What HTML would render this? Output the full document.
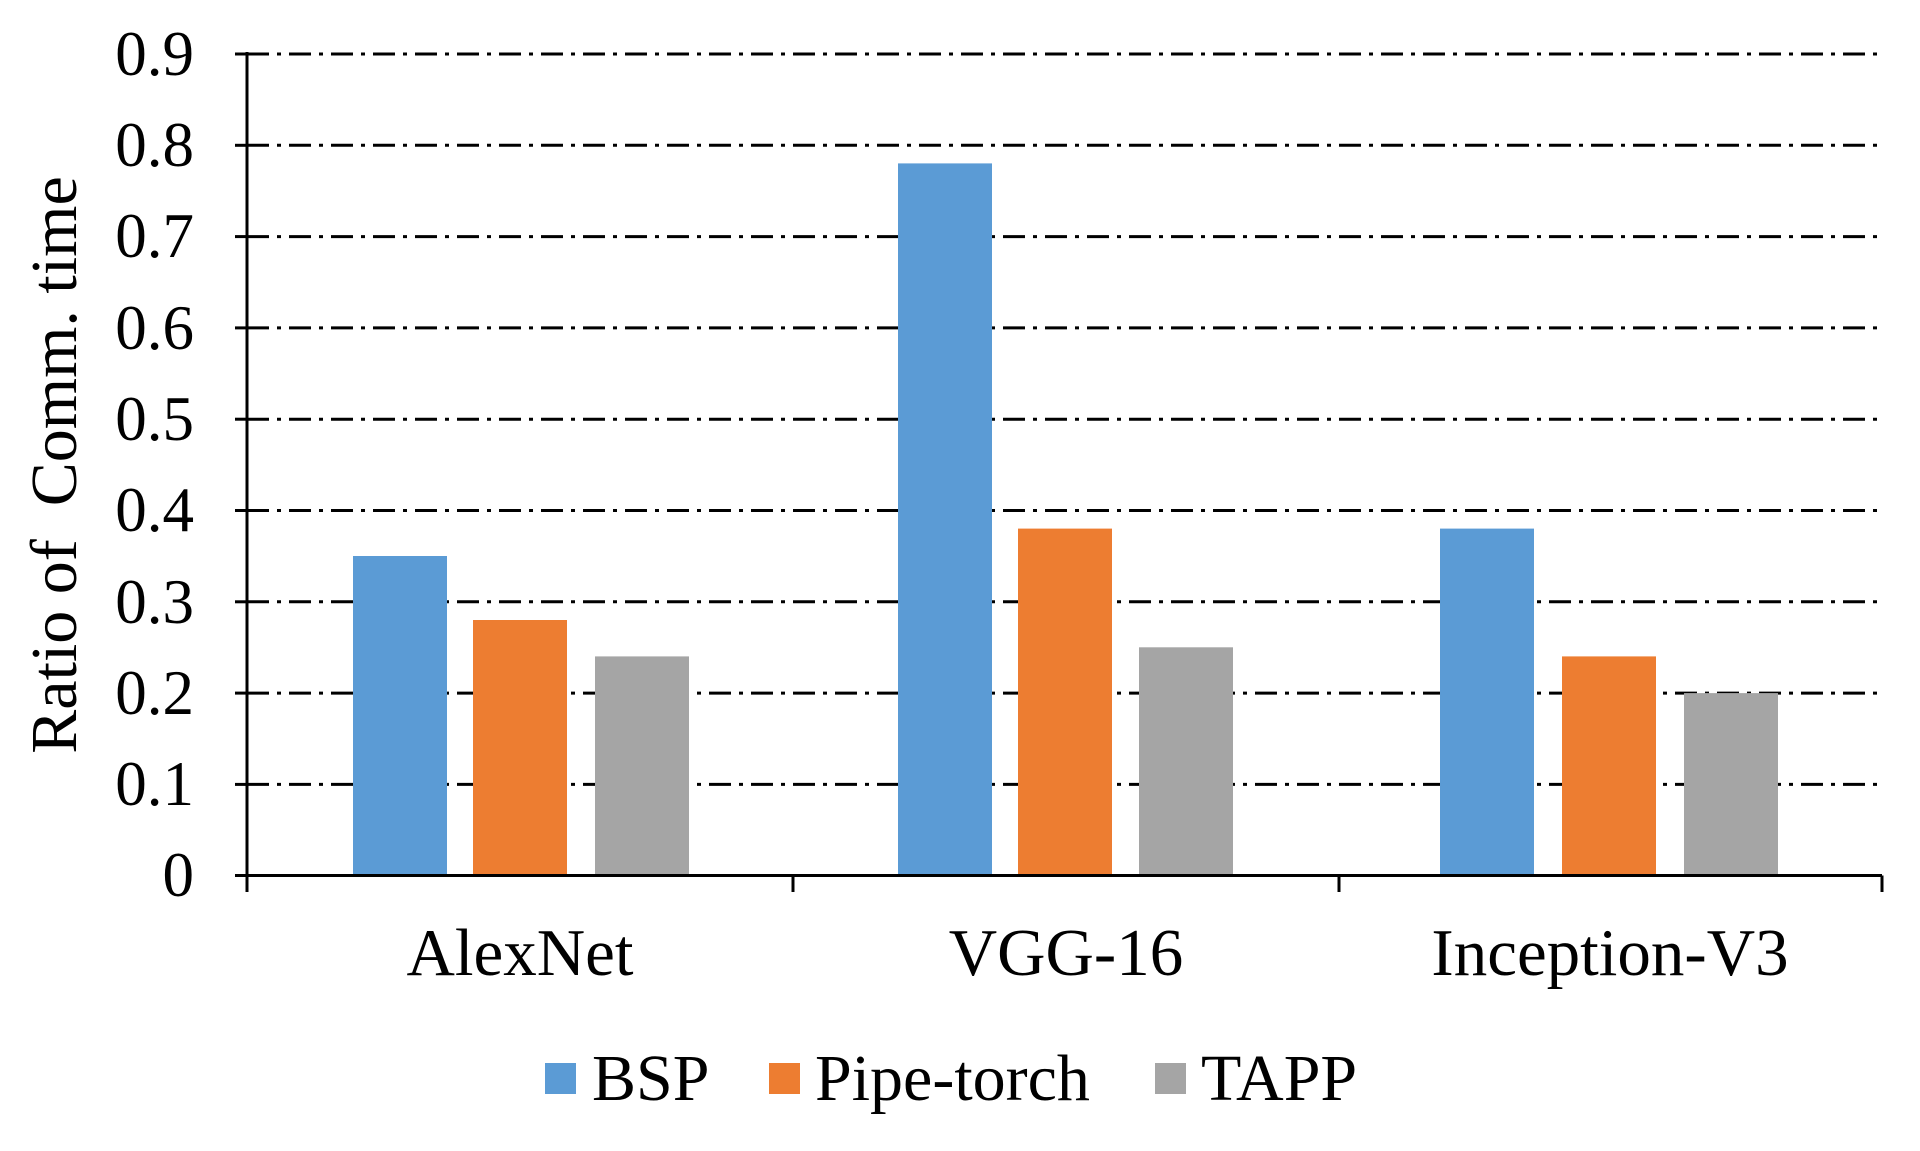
<!DOCTYPE html>
<html><head><meta charset="utf-8"><style>html,body{margin:0;padding:0;background:#fff}</style></head>
<body>
<svg width="1920" height="1146" viewBox="0 0 1920 1146" xmlns="http://www.w3.org/2000/svg" font-family="Liberation Serif, serif">
<rect width="1920" height="1146" fill="#fff"/>
<g stroke="#000" stroke-width="3" stroke-dasharray="22,8,4,8">
<line x1="247" y1="54" x2="1882" y2="54"/>
<line x1="247" y1="145.3" x2="1882" y2="145.3"/>
<line x1="247" y1="236.6" x2="1882" y2="236.6"/>
<line x1="247" y1="327.9" x2="1882" y2="327.9"/>
<line x1="247" y1="419.2" x2="1882" y2="419.2"/>
<line x1="247" y1="510.5" x2="1882" y2="510.5"/>
<line x1="247" y1="601.8" x2="1882" y2="601.8"/>
<line x1="247" y1="693.1" x2="1882" y2="693.1"/>
<line x1="247" y1="784.4" x2="1882" y2="784.4"/>
</g>
<g>
<rect x="353" y="556" width="94" height="319.5" fill="#5B9BD5"/>
<rect x="473" y="620" width="94" height="255.5" fill="#ED7D31"/>
<rect x="595" y="656.4" width="94" height="219.1" fill="#A5A5A5"/>
<rect x="898" y="163.4" width="94" height="712.1" fill="#5B9BD5"/>
<rect x="1018" y="528.6" width="94" height="346.9" fill="#ED7D31"/>
<rect x="1139" y="647.3" width="94" height="228.2" fill="#A5A5A5"/>
<rect x="1440" y="528.6" width="94" height="346.9" fill="#5B9BD5"/>
<rect x="1562" y="656.4" width="94" height="219.1" fill="#ED7D31"/>
<rect x="1684" y="693.1" width="94" height="182.4" fill="#A5A5A5"/>
</g>
<g stroke="#000" stroke-width="3">
<line x1="247" y1="52" x2="247" y2="892"/>
<line x1="235" y1="875.5" x2="1882" y2="875.5"/>
<line x1="793" y1="875.5" x2="793" y2="892"/>
<line x1="1339" y1="875.5" x2="1339" y2="892"/>
<line x1="1882" y1="875.5" x2="1882" y2="892"/>
<g>
<line x1="235" y1="54" x2="247" y2="54"/><line x1="235" y1="145.3" x2="247" y2="145.3"/><line x1="235" y1="236.6" x2="247" y2="236.6"/><line x1="235" y1="327.9" x2="247" y2="327.9"/><line x1="235" y1="419.2" x2="247" y2="419.2"/><line x1="235" y1="510.5" x2="247" y2="510.5"/><line x1="235" y1="601.8" x2="247" y2="601.8"/><line x1="235" y1="693.1" x2="247" y2="693.1"/><line x1="235" y1="784.4" x2="247" y2="784.4"/>
</g>
</g>
<g font-size="63" text-anchor="end" fill="#000">
<text x="194" y="75">0.9</text>
<text x="194" y="166">0.8</text>
<text x="194" y="257">0.7</text>
<text x="194" y="349">0.6</text>
<text x="194" y="440">0.5</text>
<text x="194" y="531">0.4</text>
<text x="194" y="623">0.3</text>
<text x="194" y="714">0.2</text>
<text x="194" y="805">0.1</text>
<text x="194" y="896">0</text>
</g>
<text transform="translate(76,465) rotate(-90)" font-size="66" text-anchor="middle" xml:space="preserve" style="white-space:pre">Ratio of  Comm. time</text>
<g font-size="67" text-anchor="middle">
<text x="520" y="975">AlexNet</text>
<text x="1066" y="975">VGG-16</text>
<text x="1610" y="975">Inception-V3</text>
</g>
<rect x="545" y="1063" width="31" height="31" fill="#5B9BD5"/>
<rect x="769" y="1063" width="31" height="31" fill="#ED7D31"/>
<rect x="1155" y="1063" width="31" height="31" fill="#A5A5A5"/>
<g font-size="66">
<text x="592" y="1100">BSP</text>
<text x="815" y="1100">Pipe-torch</text>
<text x="1201" y="1100">TAPP</text>
</g>
</svg>
</body></html>
